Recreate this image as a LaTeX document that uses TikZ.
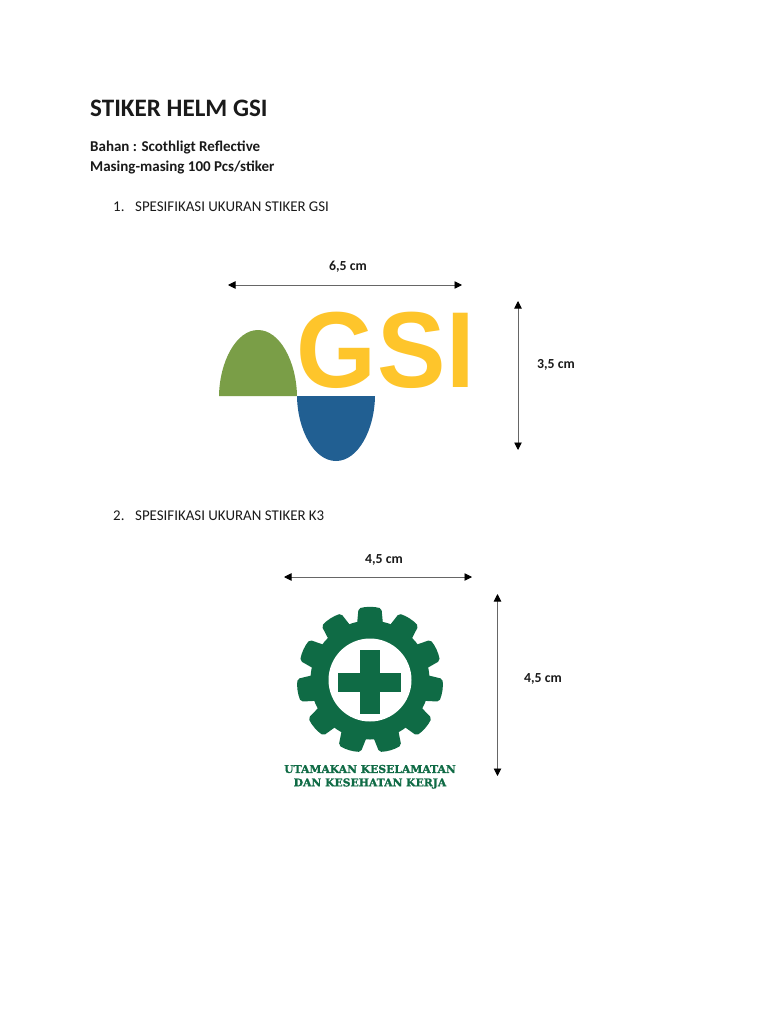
\documentclass[tikz,border=0pt]{standalone}
\usepackage{fontspec}
\setmainfont{Carlito}
\newfontfamily\logosans{Liberation Sans}
\newfontfamily\logoserif{DejaVu Serif}
\usetikzlibrary{arrows.meta}
\definecolor{txt}{HTML}{1A1A1A}
\definecolor{leaf}{HTML}{7A9E47}
\definecolor{water}{HTML}{215F92}
\definecolor{gold}{HTML}{FEC52B}
\definecolor{gear}{HTML}{0F6B45}
\tikzset{
  lbl/.style={inner sep=0pt,text=txt,font=\fontsize{14.9}{18}\selectfont},
  blbl/.style={lbl,font=\fontsize{15}{18}\selectfont\bfseries},
  dimlbl/.style={lbl,anchor=base,font=\fontsize{13.8}{16}\selectfont\bfseries},
  dim/.style={draw=black!60,line width=0.9pt,{Triangle[length=7.5pt,width=7.5pt,color=black]}-{Triangle[length=7.5pt,width=7.5pt,color=black]}},
  slogan/.style={inner sep=0pt,text=gear,font=\logoserif\bfseries\addfontfeature{FakeBold=1.2}\fontsize{10.8}{12}\selectfont},
}
\begin{document}
\begin{tikzpicture}[x=1pt,y=-1pt]
\useasboundingbox[fill=white] (0,0) rectangle (768,1024);
% header
\node[inner sep=0pt,anchor=base west,text=txt,font=\fontsize{25.1}{30}\selectfont\bfseries] (title) at (90,117) {STIKER HELM GSI};
\node[blbl,anchor=base west] (bahan) at (90,152) {Bahan : Scothligt Reflective};
\node[blbl,anchor=base west] (masing) at (90,171.5) {Masing-masing 100 Pcs/stiker};
\node[lbl,anchor=base west] (n1) at (113,211.5) {1.};
\node[lbl,anchor=base west] (t1) at (135,211.5) {SPESIFIKASI UKURAN STIKER GSI};
\node[lbl,anchor=base west] (n2) at (113,520.5) {2.};
\node[lbl,anchor=base west] (t2) at (135,520.5) {SPESIFIKASI UKURAN STIKER K3};
% GSI logo
\fill[leaf] (219,396) .. controls (219.5,362) and (236,330) .. (258,330)
  .. controls (280,330) and (296.5,362) .. (297,396) -- cycle;
\fill[water] (297,396) .. controls (297.5,430) and (314,461) .. (336,461)
  .. controls (358,461) and (374.5,430) .. (375,396) -- cycle;
\node[inner sep=0pt,anchor=base west,text=gold,xscale=0.95,font=\logosans\bfseries\fontsize{108}{114}\selectfont] (gsi) at (296,387) {G\kern2pt S\kern0pt I};
% dimensions 1
\coordinate (a1) at (228,285); \coordinate (a2) at (462,285);
\coordinate (b1) at (518,301); \coordinate (b2) at (518,450);
\draw[dim] (a1) -- (a2);
\draw[dim] (b1) -- (b2);
\node[dimlbl] (w1) at (348,270) {6,5 cm};
\node[dimlbl] (h1) at (556,368) {3,5 cm};
% K3 gear
\foreach \a in {90,57.3,24.5,-8.2,-40.9,-73.6,-106.4,-139.1,-171.8,155.5,122.7}{
  \fill[gear,rounded corners=2pt,rotate around={\a-90:(370,680)}]
    (356.5,630) -- (358.5,608.5) .. controls (366,606.4) and (374,606.4) .. (381.5,608.5) -- (383.5,630) -- cycle;
}
\fill[gear] (370,680) circle[radius=59.5];
\fill[white] (370,680) circle[radius=41.5];
\fill[gear] (360,649.5) rectangle (379.5,714);
\fill[gear] (337.5,672.5) rectangle (401,691.5);
\node[slogan] (s1) at (370,769) {UTAMAKAN KESELAMATAN};
\node[slogan] (s2) at (370,783.5) {DAN KESEHATAN KERJA};
% dimensions 2
\coordinate (c1) at (284,577); \coordinate (c2) at (472,577);
\coordinate (d1) at (497.5,594); \coordinate (d2) at (497.5,776);
\draw[dim] (c1) -- (c2);
\draw[dim] (d1) -- (d2);
\node[dimlbl] (w2) at (384,563) {4,5 cm};
\node[dimlbl] (h2) at (543,682) {4,5 cm};
\end{tikzpicture}
\end{document}
